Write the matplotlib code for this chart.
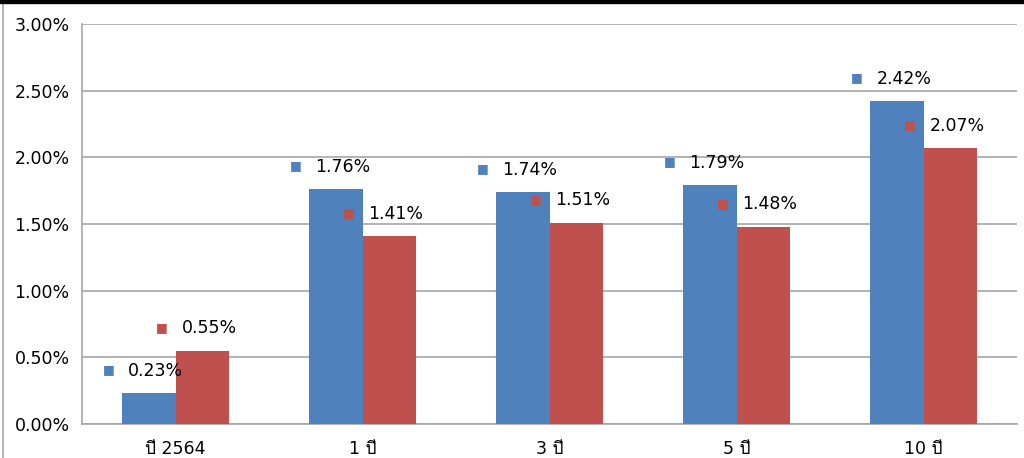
import matplotlib
matplotlib.use("Agg")
import matplotlib.pyplot as plt
from matplotlib import font_manager
from matplotlib.ft2font import FT2Font
from matplotlib.patches import Rectangle
import numpy as np

categories = ["ปี 2564", "1 ปี", "3 ปี", "5 ปี", "10 ปี"]
series_a = [0.23, 1.76, 1.74, 1.79, 2.42]
series_b = [0.55, 1.41, 1.51, 1.48, 2.07]
yticks = [0.0, 0.5, 1.0, 1.5, 2.0, 2.5, 3.0]

blue = "#4F81BD"
red = "#C0504D"


def find_thai_font():
    # look for any installed font that has the Thai glyph 'ป'
    for f in font_manager.fontManager.ttflist:
        try:
            if 0x0E1B in FT2Font(f.fname).get_charmap():
                return f.name
        except Exception:
            continue
    return None


thai = find_thai_font()
families = ["DejaVu Sans"] + ([thai] if thai else [])
plt.rcParams["font.family"] = families

fig = plt.figure(figsize=(10.24, 4.58), dpi=100)
ax = fig.add_axes([82 / 1024, 34 / 458, (1017 - 82) / 1024, 400 / 458])

x = np.arange(len(categories))
w = 0.285
bars_a = ax.bar(x - w / 2, series_a, w, color=blue, zorder=3)
bars_b = ax.bar(x + w / 2, series_b, w, color=red, zorder=3)

# data labels with a small legend key in front
for bars, vals, col in [(bars_a, series_a, blue), (bars_b, series_b, red)]:
    for b, v in zip(bars, vals):
        cx = b.get_x() + b.get_width() / 2
        ax.annotate(f"{v:.2f}%", (cx, v), xytext=(5, 16), textcoords="offset points",
                    ha="center", va="center", fontsize=12.5, color="black", zorder=5)
        ax.annotate("\u25A0", (cx, v), xytext=(-29, 17), textcoords="offset points",
                    ha="center", va="center", fontsize=9, color=col, zorder=5)

ax.set_xlim(-0.5, len(categories) - 0.5)
ax.set_ylim(0, 3.0)
ax.set_yticks(yticks)
ax.set_yticklabels([f"{t:.2f}%" for t in yticks], fontsize=12.5)
ax.set_xticks(x)
ax.set_xticklabels(categories, fontsize=12.5)
ax.tick_params(axis="y", length=0, pad=9)
ax.tick_params(axis="x", length=0, pad=11.5)
ax.yaxis.grid(True, color="#A6A6A6", linewidth=1.2, zorder=0)
for s in ["top", "right"]:
    ax.spines[s].set_visible(False)
for s in ["left", "bottom"]:
    ax.spines[s].set_color("#A6A6A6")
    ax.spines[s].set_linewidth(1.2)

# outer frame of the screenshot
fig.add_artist(Rectangle((0, 0.994), 1, 0.006, transform=fig.transFigure, color="black", zorder=10))
fig.add_artist(plt.Line2D([2.5 / 1024, 2.5 / 1024], [0, 1], transform=fig.transFigure,
                          color="#A6A6A6", linewidth=1.2))

fig.savefig("out.png", dpi=100)
